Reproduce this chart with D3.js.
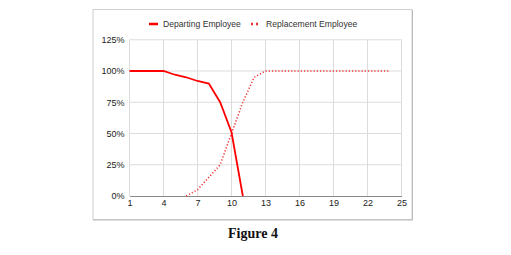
<!DOCTYPE html>
<html><head><meta charset="utf-8">
<script src="https://cdn.jsdelivr.net/npm/d3@7"></script>
<style>body{margin:0;background:#fff;}svg{display:block;}</style>
</head><body>
<script>
const departX = [1,2,3,4,5,6,7,8,9,10,11];
const departY = [100,100,100,100,97,95,92,90,75,51,0];
const replaceX = [6,7,8,9,10,11,12,13,14,15,16,17,18,19,20,21,22,23,24];
const replaceY = [0,5,15,25,50,75,95,100,100,100,100,100,100,100,100,100,100,100,100];
const xTicks = [1,4,7,10,13,16,19,22,25];
const yTicks = [0,25,50,75,100,125];
const seriesNames = ["Departing Employee","Replacement Employee"];
const caption = "Figure 4";

const W=511,H=255;
const svg=d3.select("body").append("svg").attr("width",W).attr("height",H);
// outer frame
svg.append("rect").attr("x",93).attr("y",9.5).attr("width",319).attr("height",210)
  .attr("fill","#fff").attr("stroke","#d0d0d0").attr("stroke-width",1);
svg.append("line").attr("x1",412.5).attr("x2",412.5).attr("y1",10).attr("y2",220).attr("stroke","#bbb");
svg.append("line").attr("x1",93).attr("x2",413).attr("y1",220).attr("y2",220).attr("stroke","#bbb");

const x=d3.scaleLinear().domain([1,25]).range([129.5,401.5]);
const y=d3.scaleLinear().domain([0,125]).range([196,39.75]);
const g=svg.append("g");
// grid
g.selectAll(".vg").data(xTicks).join("line").attr("x1",d=>x(d)).attr("x2",d=>x(d))
  .attr("y1",y(125)).attr("y2",y(0)).attr("stroke","#dcdcdc").attr("stroke-width",1);
g.selectAll(".hg").data(yTicks.filter(d=>d>0)).join("line").attr("x1",x(1)).attr("x2",x(25))
  .attr("y1",d=>y(d)).attr("y2",d=>y(d)).attr("stroke","#dcdcdc").attr("stroke-width",1);
// axes
const xa=svg.append("g").attr("transform",`translate(0,${y(0)})`)
  .call(d3.axisBottom(x).tickValues(xTicks).tickSize(0).tickPadding(4).tickFormat(d3.format("d")));
xa.select(".domain").attr("stroke","#888").attr("stroke-width",1.2);
xa.selectAll("text").attr("font-family","Liberation Sans, Arial, sans-serif").attr("font-size",9).attr("fill","#222");
const ya=svg.append("g").attr("transform",`translate(${x(1)-3},0)`)
  .call(d3.axisLeft(y).tickValues(yTicks).tickSize(0).tickPadding(2).tickFormat(d=>d+"%"));
ya.select(".domain").remove();
ya.selectAll("text").attr("font-family","Liberation Sans, Arial, sans-serif").attr("font-size",9).attr("fill","#222");

const line=d3.line().x(d=>x(d[0])).y(d=>y(d[1]));
svg.append("path").datum(replaceX.map((v,i)=>[v,replaceY[i]])).attr("d",line)
  .attr("fill","none").attr("stroke","#f03030").attr("stroke-width",1.5).attr("stroke-dasharray","1.2,2");
svg.append("path").datum(departX.map((v,i)=>[v,departY[i]])).attr("d",line)
  .attr("fill","none").attr("stroke","#ff0000").attr("stroke-width",1.8);

// legend
const lg=svg.append("g").attr("font-family","Liberation Sans, Arial, sans-serif").attr("font-size",8.6).attr("fill","#333");
lg.append("line").attr("x1",149).attr("x2",158).attr("y1",24).attr("y2",24).attr("stroke","#f00").attr("stroke-width",2.5);
lg.append("text").attr("x",163).attr("y",27).text(seriesNames[0]);
lg.append("line").attr("x1",251).attr("x2",261).attr("y1",24).attr("y2",24).attr("stroke","#f03030").attr("stroke-width",2.5).attr("stroke-dasharray","2,3");
lg.append("text").attr("x",266).attr("y",27).text(seriesNames[1]);

svg.append("text").attr("x",253).attr("y",238).attr("text-anchor","middle")
  .attr("font-family","Liberation Serif, Times New Roman, serif").attr("font-weight","bold").attr("font-size",14).attr("fill","#111").text(caption);
</script>
</body></html>
